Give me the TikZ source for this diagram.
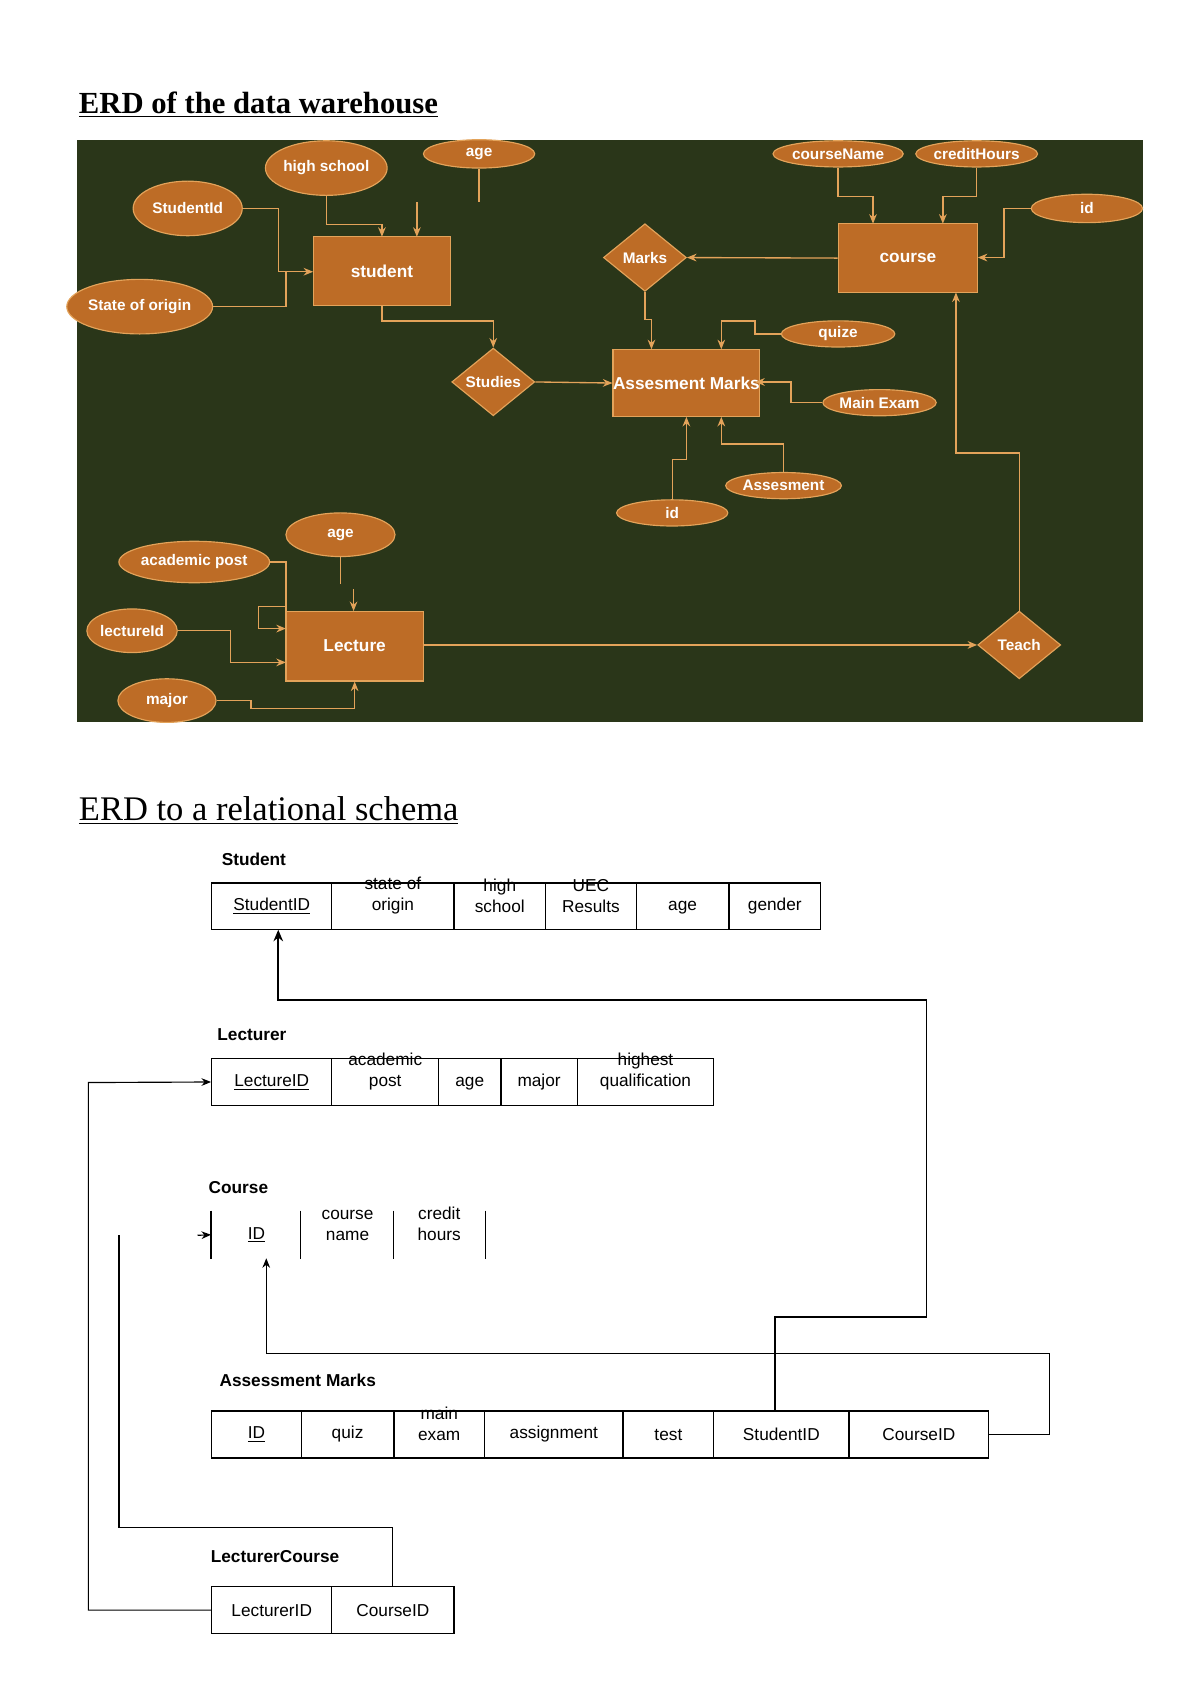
\documentclass[tikz,border=0pt]{standalone}
\usepackage{fontspec}
\setmainfont{Liberation Serif}
\setsansfont{Liberation Sans}
\usetikzlibrary{shapes.geometric,arrows.meta}
\definecolor{bg}{HTML}{2A3619}
\definecolor{ora}{HTML}{BD6C26}
\definecolor{lno}{HTML}{E3A35A}
\begin{document}
\begin{tikzpicture}[x=0.02cm,y=-0.02cm,
  ent/.style={rectangle,fill=ora,draw=lno,line width=0.6pt,text=white,font=\sffamily\bfseries\small,inner sep=0pt},
  att/.style={ellipse,fill=ora,draw=lno,line width=0.6pt,text=white,font=\sffamily\bfseries\footnotesize,inner sep=0pt},
  rel/.style={diamond,fill=ora,draw=lno,line width=0.6pt,text=white,font=\sffamily\bfseries\footnotesize,inner sep=0pt,minimum width=1.52cm,minimum height=1.24cm},
  ln/.style={draw=lno,line width=0.7pt},
  ar/.style={ln,-{Stealth[length=5pt,width=4pt]}},
  cell/.style={draw,line width=0.7pt,inner sep=0pt,minimum height=0.86cm,font=\sffamily\small,align=center,text height=1.4ex},
  ncell/.style={cell,draw=none},
  tl/.style={font=\sffamily\bfseries\small,anchor=west},
  bl/.style={line width=0.6pt},
  ba/.style={bl,-{Stealth[length=5pt,width=4pt]}}]
\useasboundingbox (0,0) rectangle (1100,1556);
% ---------- Section 1 ----------
\node[anchor=base west,font=\bfseries\fontsize{16}{18}\selectfont,inner sep=0pt] (t1) at (72,104) {\underline{ERD of the data warehouse}};
\fill[bg] (71,128) rectangle (1047,662);
\node[att,minimum width=2.04cm,minimum height=1cm] (hs) at (299,154) {high school};
\node[att,minimum width=2.04cm,minimum height=0.52cm] (age1) at (439,141) {age};
\node[att,minimum width=2cm,minimum height=1cm] (sid) at (172,191) {StudentId};
\node[att,minimum width=2.28cm,minimum height=1cm] (soo) at (128,281) {State of origin};
\node[ent,minimum width=2.52cm,minimum height=1.26cm] (stu) at (350,248.5) {student};
\node[att,minimum width=2.04cm,minimum height=0.48cm] (cn) at (768,141) {courseName};
\node[att,minimum width=2.04cm,minimum height=0.48cm] (ch) at (895,141) {creditHours};
\node[att,minimum width=2.04cm,minimum height=0.52cm] (cid) at (996,191) {id};
\node[ent,minimum width=2.56cm,minimum height=1.26cm] (crs) at (832,236.5) {course};
\node[rel] (mk) at (591,236) {Marks};
\node[att,minimum width=2.08cm,minimum height=0.48cm] (qz) at (768,306) {quize};
\node[rel] (st) at (452,350) {Studies};
\node[ent,minimum width=2.52cm,minimum height=1.24cm] (am) at (629,351) {Assesment Marks};
\node[att,minimum width=2.04cm,minimum height=0.48cm] (me) at (806,369) {Main Exam};
\node[att,minimum width=2.04cm,minimum height=0.48cm] (as) at (718,445) {Assesment};
\node[att,minimum width=2.04cm,minimum height=0.48cm] (aid) at (616,470) {id};
\node[att,minimum width=2cm,minimum height=0.8cm] (age2) at (312,490) {age};
\node[att,minimum width=2.24cm,minimum height=0.76cm] (ap) at (178,515) {academic post};
\node[att,minimum width=1.52cm,minimum height=0.8cm] (lid) at (121,578) {lectureId};
\node[att,minimum width=1.8cm,minimum height=0.8cm] (mj) at (153,642) {major};
\node[ent,minimum width=2.52cm,minimum height=1.28cm] (lec) at (325,592) {Lecture};
\node[rel] (tc) at (934,591) {Teach};
% connectors
\draw[ar] (hs.south) |- (350,206) -- (350,217);
\draw[ln] (age1.south) -- (439,185);
\coordinate (a1s) at (382,185);
\draw[ar] (a1s) -- (382,217);
\draw[ar] (sid.east) -| (255,249) -- (287,249);
\draw[ln] (soo.east) -| (262,249);
\draw[ar] (stu.south) |- (452,294) -- (st.north);
\draw[ar] (st.east) -- (am.west);
\draw[ar] (crs.west) -- (mk.east);
\draw[ar] (mk.south) |- (597,293) -- (597,320);
\draw[ar] (qz.west) -| (692,294) -| (661,320);
\draw[ar] (me.west) -| (725,350) -- (692,350);
\draw[ar] (as.north) |- (661,407) -- (661,382);
\draw[ar] (aid.north) |- (629,421) -- (629,382);
\draw[ar] (cn.south) |- (800,180) -- (800,205);
\draw[ar] (ch.south) |- (864,180) -- (864,205);
\draw[ar] (cid.west) -| (920,236) -- (896,236);
\draw[ar] (tc.north) |- (876,415) -- (876,268);
\draw[ar] (lec.east |- 0,591) -- (tc.west);
\draw[ln] (age2.south) -- (312,535);
\coordinate (a2s) at (324,540);
\draw[ar] (a2s) -- (324,560);
\draw[ln] (ap.east) -| (262,560);
\draw[ar] (262,556) -| (237,576) -- (262,576);
\draw[ar] (lid.east) -| (211,607) -- (262,607);
\draw[ar] (mj.east) -| (230,649) -| (lec.south);
% ---------- Section 2 ----------
\node[anchor=base west,font=\fontsize{18}{20}\selectfont,inner sep=0pt] (t2) at (72,752) {\underline{ERD to a relational schema}};
\node[tl] (ls) at (197,787) {Student};
\node[cell,minimum width=2.2cm] (s1) at (249,830.5) {\underline{StudentID}};
\node[cell,minimum width=2.24cm] (s2) at (360,830.5) {state of\\origin};
\node[cell,minimum width=1.68cm] (s3) at (458,830.5) {high\\school};
\node[cell,minimum width=1.66cm] (s4) at (541.5,830.5) {UEC\\Results};
\node[cell,minimum width=1.7cm] (s5) at (625.5,830.5) {age};
\node[cell,minimum width=1.68cm] (s6) at (710,830.5) {gender};
\node[tl] (ll) at (193,948) {Lecturer};
\node[cell,minimum width=2.2cm] (l1) at (249,991.5) {\underline{LectureID}};
\node[cell,minimum width=1.96cm] (l2) at (353,991.5) {academic\\post};
\node[cell,minimum width=1.14cm] (l3) at (430.5,991.5) {age};
\node[cell,minimum width=1.4cm] (l4) at (494,991.5) {major};
\node[cell,minimum width=2.5cm] (l5) at (591.5,991.5) {highest\\qualification};
\node[tl] (lc) at (185,1088) {Course};
\node[ncell,minimum width=1.64cm] (c1) at (235,1131.5) {\underline{ID}};
\node[ncell,minimum width=1.7cm] (c2) at (318.5,1131.5) {course\\name};
\node[ncell,minimum width=1.66cm] (c3) at (402.5,1131.5) {credit\\hours};
\draw[bl] (c1.north west) -- (c1.south west);
\draw[bl] (c2.north west) -- (c2.south west);
\draw[bl] (c3.north west) -- (c3.south west);
\draw[bl] (c3.north east) -- (c3.south east);
\node[tl] (la) at (195,1265) {Assessment Marks};
\node[cell,minimum width=1.64cm] (m1) at (235,1314.5) {\underline{ID}};
\node[cell,minimum width=1.7cm] (m2) at (318.5,1314.5) {quiz};
\node[cell,minimum width=1.66cm] (m3) at (402.5,1314.5) {main\\exam};
\node[cell,minimum width=2.54cm] (m4) at (507.5,1314.5) {assignment};
\node[cell,minimum width=1.66cm] (m5) at (612.5,1314.5) {test};
\node[cell,minimum width=2.48cm] (m6) at (716,1314.5) {StudentID};
\node[cell,minimum width=2.56cm] (m7) at (842,1314.5) {CourseID};
\node[tl] (llc) at (187,1426) {LecturerCourse};
\node[cell,minimum width=2.2cm] (k1) at (249,1475.5) {LecturerID};
\node[cell,minimum width=2.24cm] (k2) at (360,1475.5) {CourseID};
% relational connectors
\draw[bl,-{Stealth[length=6pt,width=5pt]},line width=1pt] (710,1293) -- (710,1207) -- (849,1207) -- (849,916) -- (255,916) -- (255,852);
\draw[ba] (m7.east) -- (962,1314.5) -- (962,1240) -- (244,1240) -- (244,1153);
\draw[ba] (k1.west) -- (81,1475.5) -- (81,992) -- (l1.west);
\draw[bl] (k2.north) -- (360,1400) -- (109,1400) -- (109,1132);
\coordinate (cin) at (181,1132);
\draw[ba] (cin) -- (c1.west);
\end{tikzpicture}
\end{document}
